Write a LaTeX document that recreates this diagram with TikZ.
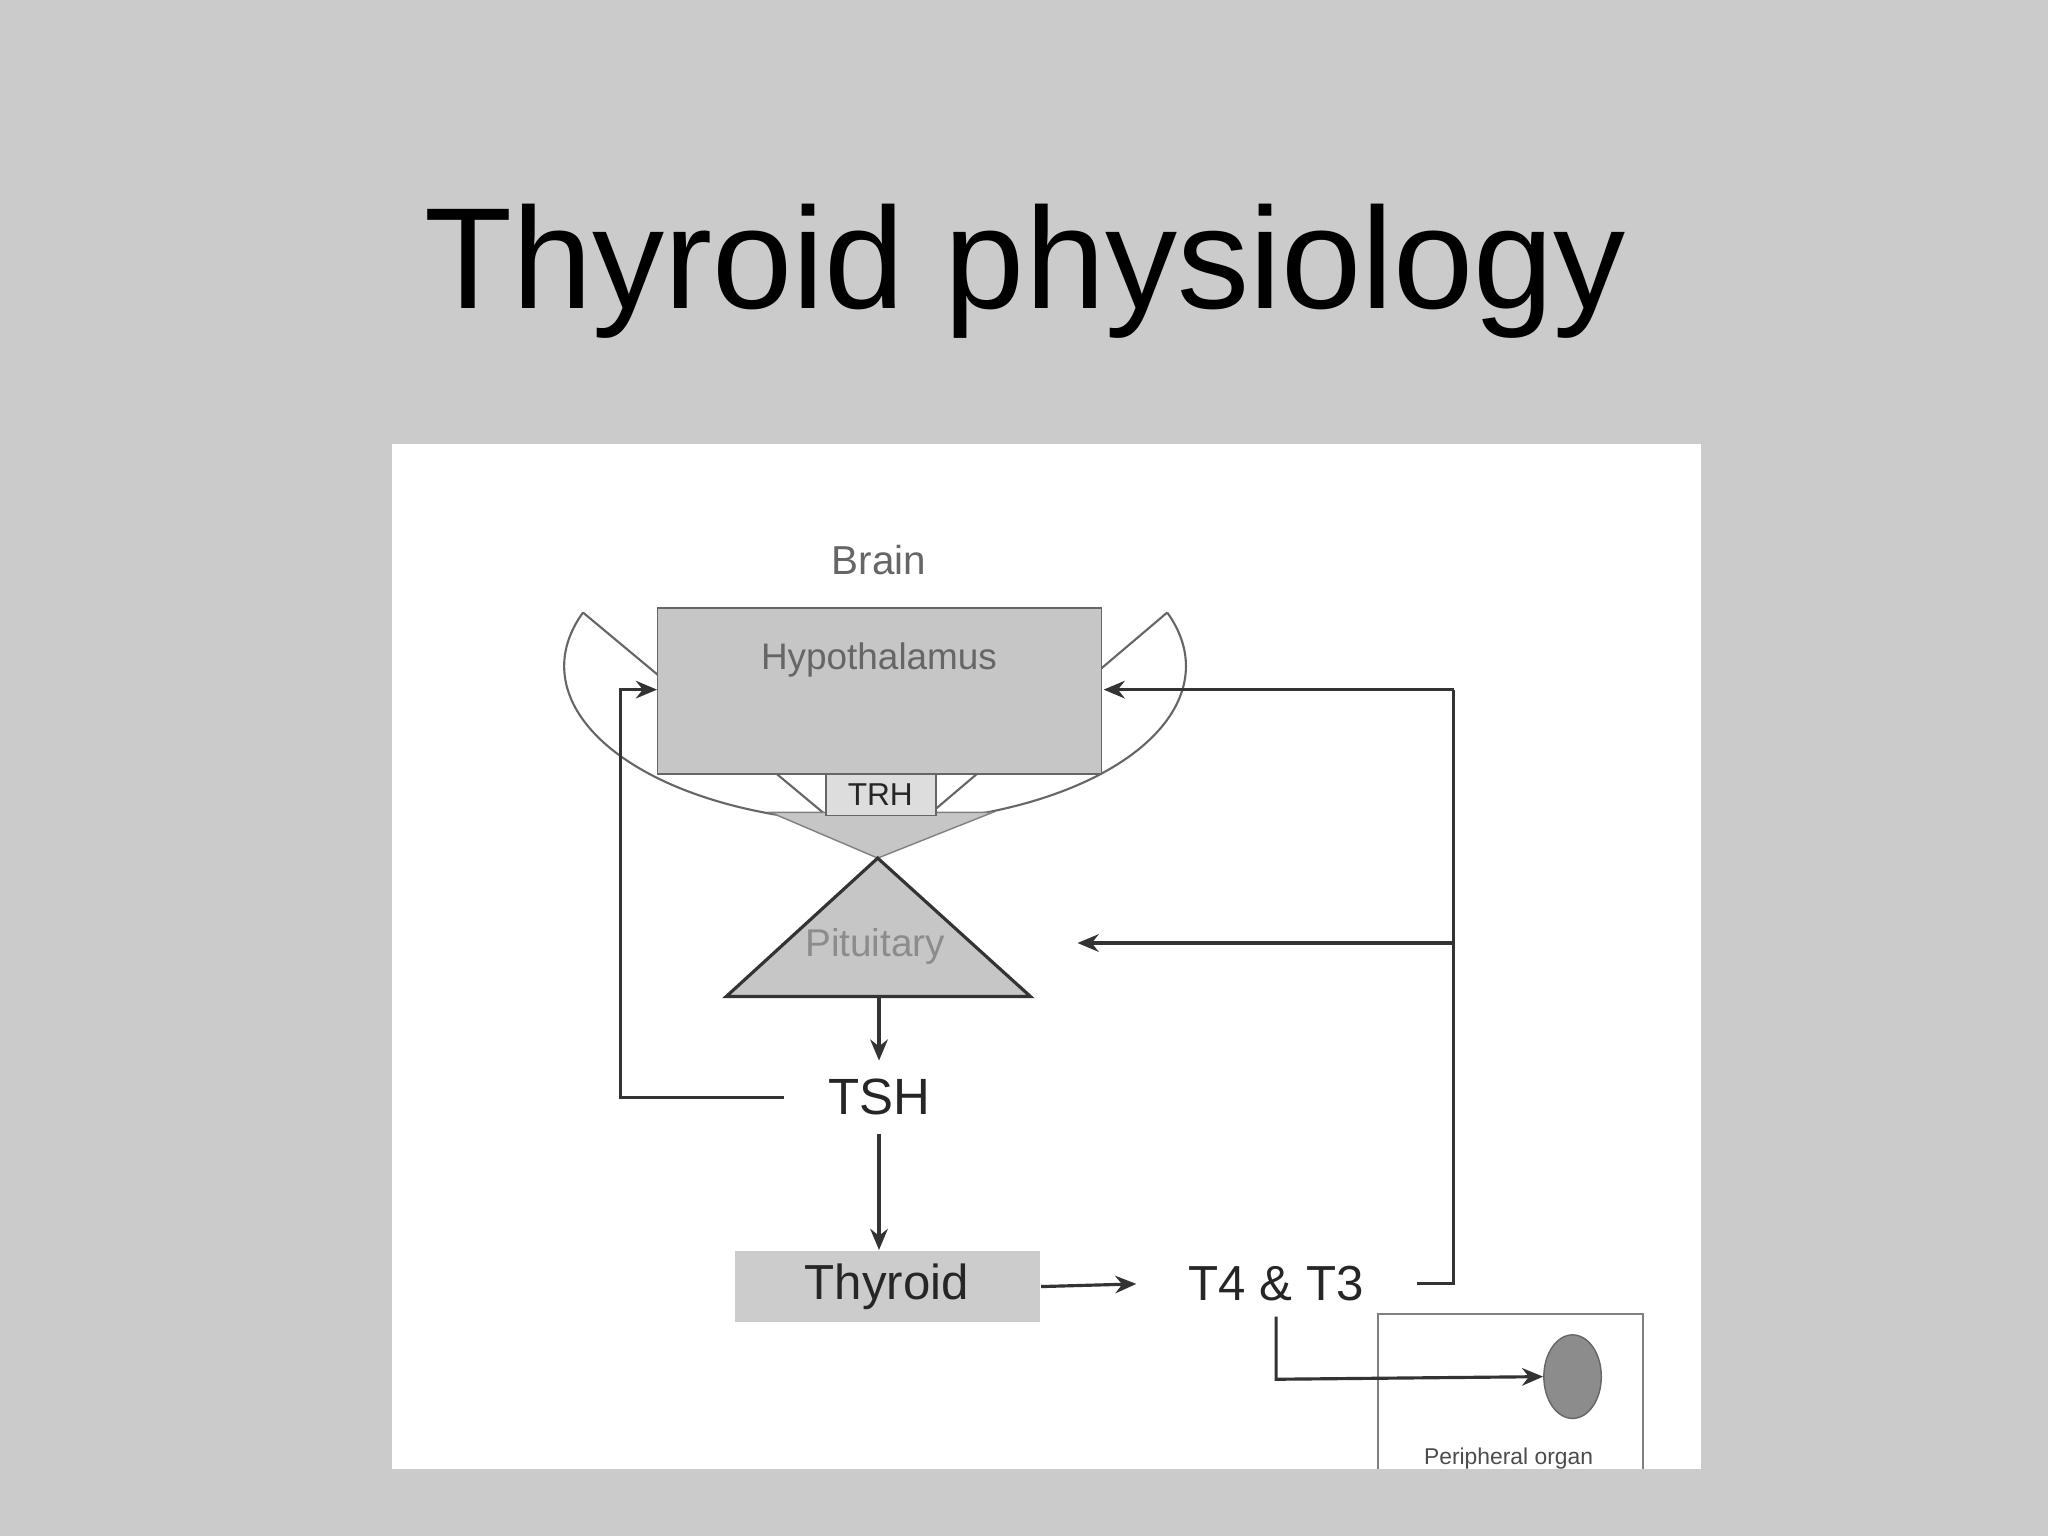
\documentclass[tikz,border=0pt]{standalone}
\usepackage{fontspec}
\setmainfont{Liberation Sans}
\usetikzlibrary{arrows.meta,shapes.geometric}
\definecolor{bg}{HTML}{CBCBCB}
\definecolor{boxg}{HTML}{C6C6C6}
\tikzset{
  conn/.style={line width=0.9pt, draw=black!80},
  arr/.style={conn,-{Stealth[length=6pt,width=5pt]}},
  lbl/.style={inner sep=0pt, text=black!85}
}
\begin{document}
\begin{tikzpicture}[x=0.01306cm,y=-0.01306cm]
\fill[bg] (0,0) rectangle (1568,1176);
\useasboundingbox (0,0) rectangle (1568,1176);
\fill[white] (300,340) rectangle (1302,1125);
\node[lbl,text=black,font=\fontsize{41}{46}\selectfont] (title) at (785,208) {Thyroid physiology};
% brain ellipse
\draw[conn,line width=0.6pt,draw=black!60] (670,510) ++(200:238 and 120) coordinate (el) arc[start angle=200,end angle=-20,x radius=238,y radius=120] coordinate (er);
\coordinate (apex) at (672,657);
\draw[conn,line width=0.6pt,draw=black!60] (el) -- (apex) -- (er);
% hypothalamus
\node[draw=black!60,fill=boxg,minimum width=340*0.01306cm,minimum height=127*0.01306cm,anchor=north west,inner sep=0pt] (hyp) at (503,465) {};
\node[lbl,text=black!60,font=\fontsize{10.5}{12}\selectfont] (hyptxt) at (673,505) {Hypothalamus};
\fill[boxg,draw=black!50] (590,622) -- (760,622) -- (apex) -- cycle;
\node[draw=black!60,fill=boxg!60,minimum width=84*0.01306cm,minimum height=32*0.01306cm,anchor=north west,inner sep=0pt] (trhbox) at (632,592) {};
\node[lbl,font=\fontsize{9}{10}\selectfont] (trh) at (674,608) {TRH};
% pituitary
\filldraw[fill=boxg,draw=black!80,line width=0.9pt] (556,763) -- (789,763) -- (apex) -- cycle;
\node[lbl,text=black!45,font=\fontsize{11}{12}\selectfont] (pit) at (670,725) {Pituitary};
\node[lbl,text=black!60,font=\fontsize{11.5}{13}\selectfont] (brain) at (673,429) {Brain};
% TSH
\node[lbl,font=\fontsize{14.5}{16}\selectfont] (tsh) at (673,840) {TSH};
\coordinate (pitb) at (673,763);
\draw[arr] (pitb) -- (673,812);
\coordinate (tshl) at (600,840);
\coordinate (hypl) at (503,528);
\draw[arr] (tshl) -- (475,840) -- (475,528) -- (hypl);
% thyroid
\node[fill=boxg!90,minimum width=234*0.01306cm,minimum height=55*0.01306cm,anchor=north west,inner sep=0pt] (thy) at (562,957) {};
\node[lbl,font=\fontsize{14}{16}\selectfont] (thytxt) at (679,985) {Thyroid};
\draw[arr] (673,868) -- (673,957);
\node[lbl,font=\fontsize{14}{16}\selectfont] (t4) at (977,983) {T4 \& T3};
\draw[arr] (thy.east) -- (870,983);
% feedback
\coordinate (hypr) at (845,528);
\coordinate (pitr) at (825,722);
\draw[conn] (1085,983) -- (1113,983) -- (1113,528);
\draw[arr] (1113,528) -- (hypr);
\draw[arr] (1113,722) -- (pitr);
% peripheral organ
\draw[draw=black!50,line width=0.6pt] (1055,1125) -- (1055,1006) -- (1258,1006) -- (1258,1125);
\node[ellipse,fill=black!45,draw=black!60,minimum width=44*0.01306cm,minimum height=64*0.01306cm,inner sep=0pt] (org) at (1204,1054) {};
\node[lbl,text=black!70,font=\fontsize{6.5}{7}\selectfont] (pertxt) at (1155,1117) {Peripheral organ};
\draw[arr] (977,1008) -- (977,1056) -- (org.west);
\end{tikzpicture}
\end{document}
